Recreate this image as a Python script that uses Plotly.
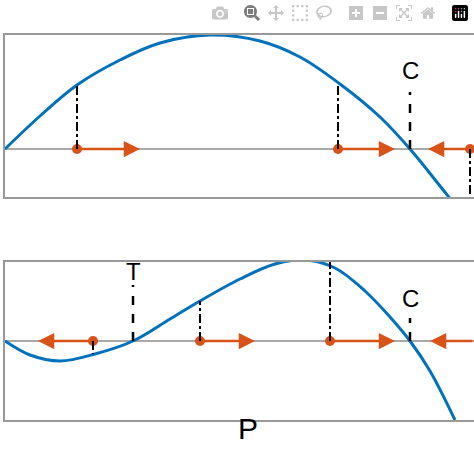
import plotly.graph_objects as go
from plotly.subplots import make_subplots

BLUE = "#0072BD"
ORANGE = "#D95319"

# top panel curve samples (x, height)
top_x = [5, 40, 77, 120, 160, 210, 260, 300, 340, 380, 410, 440, 460]
top_y = [0, 33, 64, 89, 106, 114, 108, 92, 65, 32, 0, -37, -62]
top_dots = [77, 338, 470]
top_dot_h = [64, 66, -48]
top_arrows = [(77, 140), (338, 395), (470, 428)]

# bottom panel curve samples
bot_x = [5, 30, 60, 95, 133, 170, 200, 240, 275, 305, 335, 365, 390, 410, 430, 455]
bot_y = [0, -14, -20, -13, 0, 22, 40, 62, 77, 81, 73, 50, 24, 0, -30, -79]
bot_dots = [93, 200, 330]
bot_dot_h = [-13, 40, 79]
bot_arrows = [(93, 38), (200, 255), (330, 395), (474, 430)]

fig = make_subplots(rows=2, cols=1)

for r, xs, ys in [(1, top_x, top_y), (2, bot_x, bot_y)]:
    fig.add_trace(go.Scatter(x=[5, 474], y=[0, 0], mode="lines",
                             line=dict(color="#555", width=1)), row=r, col=1)
    fig.add_trace(go.Scatter(x=xs, y=ys, mode="lines", line_shape="spline",
                             line=dict(color=BLUE, width=3)), row=r, col=1)

def add_panel(r, dots, hs, arrows):
    xr, yr = ("x", "y") if r == 1 else ("x2", "y2")
    for x, h in zip(dots, hs):
        fig.add_shape(type="line", x0=x, x1=x, y0=0, y1=h, xref=xr, yref=yr,
                      line=dict(color="black", width=2, dash="dashdot"))
    for a, b in arrows:
        fig.add_annotation(x=b, y=0, ax=a, ay=0, xref=xr, yref=yr, axref=xr, ayref=yr,
                           showarrow=True, arrowhead=2, arrowsize=1.3, arrowwidth=2.5,
                           arrowcolor=ORANGE, text="")
    fig.add_trace(go.Scatter(x=dots, y=[0] * len(dots), mode="markers",
                             marker=dict(color=ORANGE, size=10)), row=r, col=1)

add_panel(1, top_dots, top_dot_h, top_arrows)
add_panel(2, bot_dots, bot_dot_h, bot_arrows)

labels = [(1, 410, 57, 79, "C"), (2, 133, 56, 70, "T"), (2, 410, 23, 43, "C")]
for r, x, h, ty, t in labels:
    xr, yr = ("x", "y") if r == 1 else ("x2", "y2")
    fig.add_shape(type="line", x0=x, x1=x, y0=0, y1=h, xref=xr, yref=yr,
                  line=dict(color="black", width=2.5, dash="dash"))
    fig.add_annotation(x=x, y=ty, xref=xr, yref=yr, text=t, showarrow=False,
                       font=dict(size=24, color="black", family="Liberation Sans"))

fig.add_annotation(x=248 / 474, y=1 - 447 / 474, xref="paper", yref="paper", text="P",
                   showarrow=False, font=dict(size=30, color="black", family="Liberation Sans"))

ax = dict(showticklabels=False, ticks="", showgrid=False, zeroline=False,
          showline=True, linecolor="#999", linewidth=1.5)
fig.update_xaxes(ax, range=[5, 474], domain=[5 / 474, 1], mirror=True)
fig.update_yaxes(ax, mirror=False)
fig.update_yaxes(range=[-48, 114], domain=[1 - 197 / 474, 1 - 35 / 474], row=1, col=1)
fig.update_yaxes(range=[-79, 79], domain=[1 - 420 / 474, 1 - 262 / 474], row=2, col=1)

fig.update_layout(width=474, height=474, margin=dict(l=0, r=0, t=0, b=0),
                  showlegend=False, plot_bgcolor="white", paper_bgcolor="white")
fig.write_html("out.html",
               post_script="document.body.style.margin='0';document.body.style.overflow='hidden';")
